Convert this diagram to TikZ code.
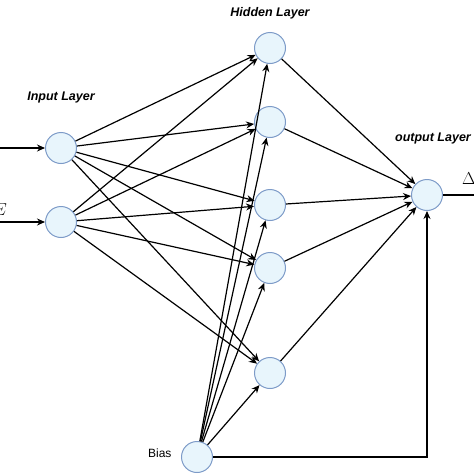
\documentclass[tikz,border=0pt]{standalone}
\usepackage{fontspec}
\setsansfont{Liberation Sans}
\usetikzlibrary{arrows.meta}
\definecolor{nodefill}{RGB}{232,245,252}
\definecolor{nodeline}{RGB}{125,155,200}
\begin{document}
\begin{tikzpicture}[x=1pt,y=-1pt,
  neuron/.style={circle,draw=nodeline,fill=nodefill,line width=1pt,minimum size=31pt,inner sep=0pt},
  conn/.style={line width=1.2pt,-{Stealth[length=8pt,width=7pt]}},
  plain/.style={line width=1.2pt},
  layerlabel/.style={font=\sffamily\bfseries\itshape\fontsize{12.5}{14}\selectfont},
  txt/.style={font=\sffamily\fontsize{12}{14}\selectfont}]
\useasboundingbox (0,0) rectangle (474,474);
\node[neuron] (i1) at (61,148) {};
\node[neuron] (i2) at (61,222) {};
\node[neuron] (h1) at (270,48) {};
\node[neuron] (h2) at (270,122) {};
\node[neuron] (h3) at (270,205) {};
\node[neuron] (h4) at (270,268) {};
\node[neuron] (h5) at (270,373) {};
\node[neuron] (o) at (427,195) {};
\node[neuron] (b) at (197,457) {};
\coordinate (in1) at (-2,148);
\coordinate (in2) at (-2,222);
\coordinate (out) at (476,195);
\coordinate (corner) at (427,457);
\node[layerlabel] (li) at (61,97) {Input Layer};
\node[layerlabel] (lh) at (270,13) {Hidden Layer};
\node[layerlabel] (lo) at (433,138) {output Layer};
\node[txt,anchor=east] (lb) at (175,453) {Bias};
\node[anchor=east,inner sep=0pt,font=\fontsize{16}{18}\selectfont] (le) at (7,210) {$E$};
\node[anchor=west,inner sep=0pt,font=\fontsize{16}{18}\selectfont] (ld) at (462,179) {$\Delta$};
\draw[conn] (in1) -- (i1);
\draw[conn] (in2) -- (i2);
\foreach \i in {i1,i2,b}{
  \foreach \h in {h1,h2,h3,h4,h5}{
    \draw[conn] (\i) -- (\h);
  }
}
\foreach \h in {h1,h2,h3,h4,h5}{
  \draw[conn] (\h) -- (o);
}
\draw[conn] (b.east) -- (corner) -- (o.south);
\draw[plain] (o) -- (out);
\end{tikzpicture}
\end{document}
